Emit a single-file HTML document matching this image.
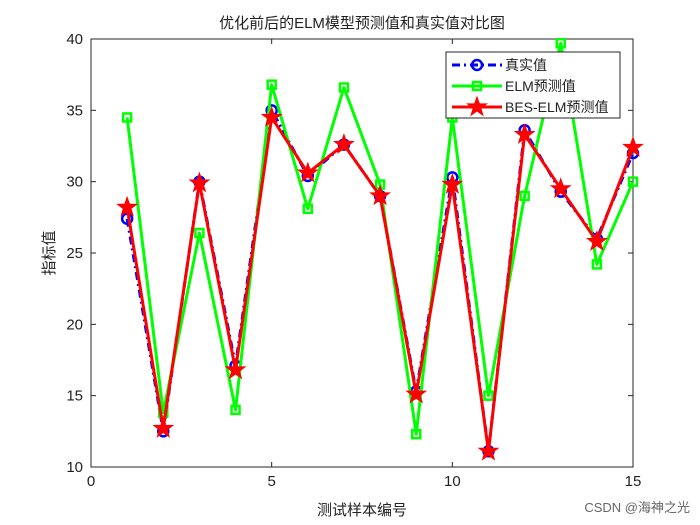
<!DOCTYPE html>
<html><head><meta charset="utf-8"><style>
body{margin:0;background:#fff;}
svg{display:block;font-family:"Liberation Sans","Noto Sans CJK SC",sans-serif;}
</style></head><body>
<svg id="c" width="700" height="525" xmlns="http://www.w3.org/2000/svg">
<rect x="0" y="0" width="700" height="525" fill="#fff"/>
<text x="362" y="28" text-anchor="middle" font-size="15" fill="#222">优化前后的ELM模型预测值和真实值对比图</text>
<g id="axes"></g>
<g id="series"></g>
<text x="362" y="515" text-anchor="middle" font-size="15" fill="#222">测试样本编号</text>
<text transform="translate(54,253) rotate(-90)" text-anchor="middle" font-size="15" fill="#222">指标值</text>
<text x="690" y="512" text-anchor="end" font-size="13" fill="#666">CSDN @海神之光</text>
</svg>
<script>
const xs=[1,2,3,4,5,6,7,8,9,10,11,12,13,14,15];
const trueVals=[27.4,12.5,30.0,17.1,35.0,30.4,32.6,29.0,15.3,30.3,11.1,33.6,29.3,26.0,32.0];
const elmVals=[34.5,13.8,26.4,14.0,36.8,28.1,36.6,29.8,12.3,34.5,15.0,29.0,39.7,24.2,30.0];
const besVals=[28.2,12.7,29.9,16.8,34.5,30.6,32.6,29.0,15.1,29.8,11.1,33.3,29.5,25.8,32.4];
const xTicks=[0,5,10,15];
const yTicks=[10,15,20,25,30,35,40];
const L=91,R=633,T=39,B=467;
const X=v=>L+(v-0)/15*(R-L);
const Y=v=>B-(v-10)/30*(B-T);
const NS="http://www.w3.org/2000/svg";
function mk(tag,attrs,parent){const e=document.createElementNS(NS,tag);for(const k in attrs)e.setAttribute(k,attrs[k]);parent.appendChild(e);return e;}
const ax=document.getElementById('axes');
const frame=mk('rect',{x:L,y:T,width:R-L,height:B-T,fill:'none',stroke:'#262626','stroke-width':1},ax);


xTicks.forEach(t=>{
  mk('line',{x1:X(t),x2:X(t),y1:B,y2:B-5,stroke:'#262626'},ax);
  mk('line',{x1:X(t),x2:X(t),y1:T,y2:T+5,stroke:'#262626'},ax);
  const tx=mk('text',{x:X(t),y:B+19,'text-anchor':'middle','font-size':15,fill:'#222'},ax);
  tx.textContent=t;
  
  
});
yTicks.forEach(t=>{
  mk('line',{x1:L,x2:L+5,y1:Y(t),y2:Y(t),stroke:'#262626'},ax);
  mk('line',{x1:R,x2:R-5,y1:Y(t),y2:Y(t),stroke:'#262626'},ax);
  const tx=mk('text',{x:L-8,y:Y(t)+5,'text-anchor':'end','font-size':15,fill:'#222'},ax);
  tx.textContent=t;
  
  
});
const sg=document.getElementById('series');
function star(cx,cy,r){let p=[];for(let i=0;i<10;i++){const a=-Math.PI/2+i*Math.PI/5;const rr=i%2?r*0.4:r;p.push((cx+rr*Math.cos(a)).toFixed(1)+','+(cy+rr*Math.sin(a)).toFixed(1));}return p.join(' ');}
function drawMarker(kind,cx,cy,g){
  let m;
  if(kind==='o')m=mk('circle',{cx:cx,cy:cy,r:5,fill:'none',stroke:'#0000ff','stroke-width':2.5},g);
  else if(kind==='s')m=mk('rect',{x:cx-4,y:cy-4,width:8,height:8,fill:'none',stroke:'#00ff00','stroke-width':2.5},g);
  else m=mk('polygon',{points:star(cx,cy,10),fill:'#ff0000',stroke:'#ff0000','stroke-width':1},g);
  return m;
}
function drawSeries(vals,color,dash,kind,name){
  const g=mk('g',{},sg);
  
  
  const pts=vals.map((v,i)=>X(xs[i])+','+Y(v)).join(' ');
  const pl=mk('polyline',{points:pts,fill:'none',stroke:color,'stroke-width':3,'stroke-dasharray':dash,'stroke-linejoin':'round'},g);
  
  
  vals.forEach((v,i)=>{
    const m=drawMarker(kind,X(xs[i]),Y(v),g);
    
    
  });
}
drawSeries(trueVals,'#0000ff','8,4,2,4','o','true-series');
drawSeries(elmVals,'#00ff00','none','s','elm-series');
drawSeries(besVals,'#ff0000','none','*','bes-elm-series');
// legend
const lg=mk('g',{},sg);


mk('rect',{x:446,y:52,width:174,height:66,fill:'#fff',stroke:'#262626','stroke-width':1},lg);
const items=[['真实值','#0000ff','8,4,2,4','o'],['ELM预测值','#00ff00','none','s'],['BES-ELM预测值','#ff0000','none','*']];
items.forEach((it,i)=>{
  const y=65+i*21;
  const e=mk('g',{},lg);
  
  
  mk('line',{x1:452,x2:502,y1:y,y2:y,stroke:it[1],'stroke-width':3,'stroke-dasharray':it[2]},e);
  drawMarker(it[3],477,y,e);
  const t=mk('text',{x:505,y:y+5,'font-size':14,fill:'#222'},e);
  t.textContent=it[0];
});
</script>
</body></html>
